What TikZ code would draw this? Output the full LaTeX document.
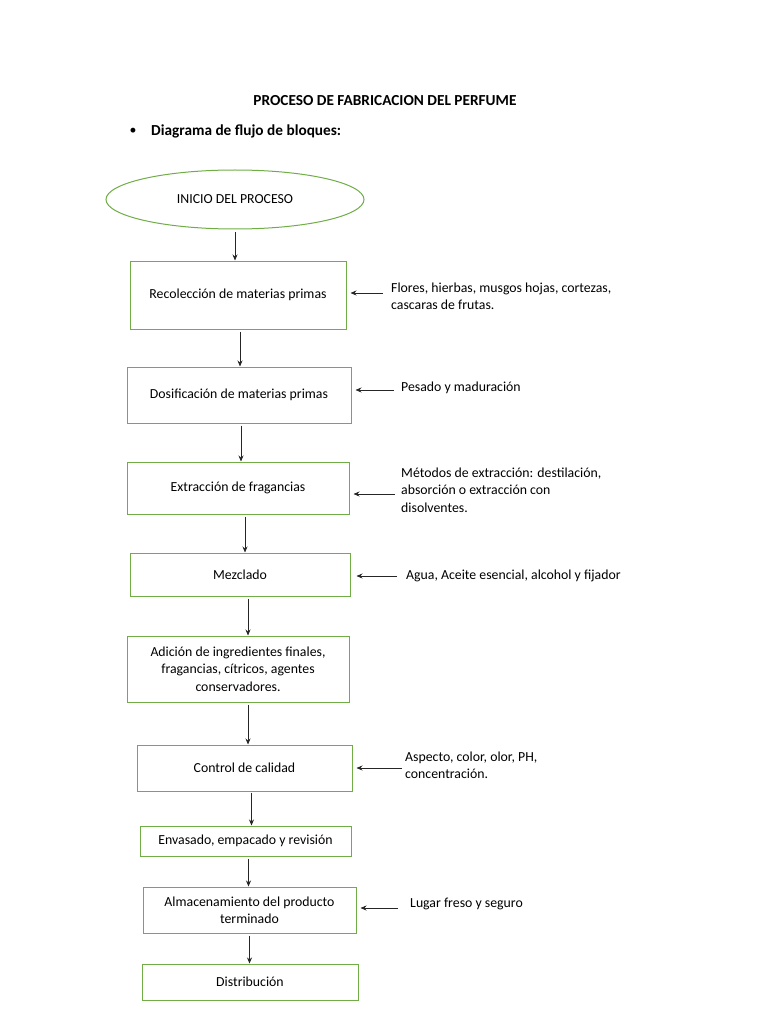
\documentclass[tikz,border=0pt]{standalone}
\usepackage{fontspec}
\setmainfont{Carlito}
\usepackage{tikz}
\usetikzlibrary{shapes.geometric, arrows.meta, positioning, calc}
\definecolor{boxgreen}{RGB}{112,173,71}

\begin{document}
\begin{tikzpicture}[x=1pt, y=-1pt,
    font=\fontsize{13.8}{17.3}\selectfont,
    head/.style={font=\fontsize{15.3}{18}\selectfont\bfseries},
    block/.style={draw=boxgreen, line width=1pt, fill=white, align=center, inner sep=2pt},
    note/.style={anchor=west, align=left, inner sep=0pt},
    arr/.style={-{Stealth[length=6pt, width=5pt]}, line width=0.7pt, black!85}]
    \useasboundingbox (0,0) rectangle (768,1024);

    \node[head] (title) at (385,101) {PROCESO DE FABRICACION DEL PERFUME};
    \node (bul) at (133,131) {\textbullet};
    \node[note, head] (sub) at (151,131) {Diagrama de flujo de bloques:};

    \node[ellipse, draw=boxgreen, line width=1pt, minimum width=258pt, minimum height=59pt, inner sep=0pt] (start) at (235,199.5) {INICIO DEL PROCESO};
    \node[block, minimum width=216pt, minimum height=68pt] (b1) at (238,295) {Recolección de materias primas};
    \node[block, minimum width=224pt, minimum height=56pt] (b2) at (239,395) {Dosificación de materias primas};
    \node[block, minimum width=222pt, minimum height=52pt] (b3) at (238,488) {Extracción de fragancias};
    \node[block, minimum width=220pt, minimum height=43pt] (b4) at (240,574.5) {Mezclado};
    \node[block, minimum width=222pt, minimum height=66pt] (b5) at (238,669) {Adición de ingredientes finales,\\ fragancias, cítricos, agentes\\ conservadores.};
    \node[block, minimum width=215pt, minimum height=46pt] (b6) at (244.5,768) {Control de calidad};
    \node[block, minimum width=211pt, minimum height=30pt] (b7) at (245.5,841) {Envasado, empacado y revisión};
    \node[block, minimum width=213pt, minimum height=46pt] (b8) at (249.5,910) {Almacenamiento del producto\\ terminado};
    \node[block, minimum width=216pt, minimum height=36pt] (b9) at (250,982) {Distribución};

    % notas laterales
    \node[note] (n1) at (391,296.5) {Flores, hierbas, musgos hojas, cortezas,\\ cascaras de frutas.};
    \node[note] (n2) at (401,388) {Pesado y maduración};
    \node[note] (n3) at (401,490) {Métodos de extracción: destilación,\\ absorción o extracción con\\ disolventes.};
    \node[note] (n4) at (406,576) {Agua, Aceite esencial, alcohol y fijador};
    \node[note] (n6) at (405,765) {Aspecto, color, olor, PH,\\ concentración.};
    \node[note] (n8) at (410,904) {Lugar freso y seguro};

    \coordinate (s1) at (383,293);
    \coordinate (s2) at (394,390);
    \coordinate (s3) at (395,494);
    \coordinate (s4) at (397,576);
    \coordinate (s6) at (402,768);
    \coordinate (s8) at (398,908);

    % flechas verticales
    \draw[arr, shorten <=3pt] (start.south) -- (start.south |- b1.north);
    \draw[arr, shorten <=2pt] ([xshift=2pt]b1.south) -- ([xshift=2pt]b1.south |- b2.north);
    \draw[arr, shorten <=2pt] ([xshift=2pt]b2.south) -- ([xshift=2pt]b2.south |- b3.north);
    \draw[arr, shorten <=2pt] ([xshift=7pt]b3.south) -- ([xshift=7pt]b3.south |- b4.north);
    \draw[arr, shorten <=2pt] ([xshift=8pt]b4.south) -- ([xshift=8pt]b4.south |- b5.north);
    \draw[arr, shorten <=2pt] ([xshift=10pt]b5.south) -- ([xshift=10pt]b5.south |- b6.north);
    \draw[arr, shorten <=1pt] ([xshift=7pt]b6.south) -- ([xshift=7pt]b6.south |- b7.north);
    \draw[arr, shorten <=2pt] ([xshift=3pt]b7.south) -- ([xshift=3pt]b7.south |- b8.north);
    \draw[arr, shorten <=2pt] (b8.south) -- (b8.south |- b9.north);

    % flechas de entrada
    \draw[arr, shorten >=4pt] (s1) -- (s1 -| b1.east);
    \draw[arr, shorten >=4pt] (s2) -- (s2 -| b2.east);
    \draw[arr, shorten >=4pt] (s3) -- (s3 -| b3.east);
    \draw[arr, shorten >=6pt] (s4) -- (s4 -| b4.east);
    \draw[arr, shorten >=4pt] (s6) -- (s6 -| b6.east);
    \draw[arr, shorten >=4pt] (s8) -- (s8 -| b8.east);
\end{tikzpicture}
\end{document}
